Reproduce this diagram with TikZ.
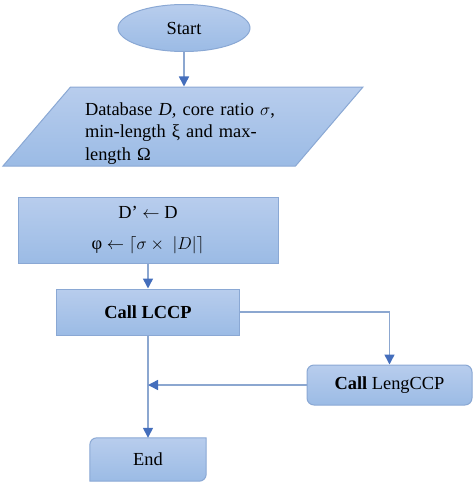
\documentclass[tikz,border=0pt]{standalone}
\usepackage{fontspec}
\setmainfont{Liberation Serif}
\usetikzlibrary{arrows.meta,shapes.geometric,backgrounds}

\definecolor{boxtop}{RGB}{184,205,237}
\definecolor{boxbot}{RGB}{155,187,229}
\definecolor{boxline}{RGB}{138,168,212}
\definecolor{linkblue}{RGB}{140,167,208}
\definecolor{tipblue}{RGB}{68,110,188}

\tikzset{
  boxfill/.style={draw=boxline, line width=1pt, top color=boxtop, bottom color=boxbot},
  box/.style={boxfill, font=\fontsize{18.4}{22.5}\selectfont, inner sep=0pt},
  flow/.style={draw=linkblue, line width=1.5pt, -{Triangle[length=10pt,width=10pt,color=tipblue]}},
}

\begin{document}
\begin{tikzpicture}[x=1pt,y=-1pt]
  \useasboundingbox (0,0) rectangle (474,482);

  \node[box, ellipse, minimum width=132, minimum height=47] (start) at (184,28) {Start};
  \node[box, trapezium, trapezium left angle=48, trapezium right angle=132,
        trapezium stretches body, minimum width=360, minimum height=79,
        text width=196, align=left] (input) at (183,126.5)
        {\rule{0pt}{26pt}Database \textit{D,} core ratio $\sigma$,\\ min-length ξ and max-\\ length Ω};
  \node[box, minimum width=260, minimum height=66, align=center] (init) at (148,230)
        {D’ $\leftarrow$ D\\[8pt] φ $\leftarrow \lceil\sigma\times\ |D|\rceil$};
  \node[box, minimum width=183, minimum height=46] (lccp) at (148,312) {\textbf{Call LCCP}};
  \node[box, rounded corners=7, minimum width=165, minimum height=40] (leng) at (389.5,385)
        {\textbf{Call} LengCCP};
  \node[font=\fontsize{18.4}{22.5}\selectfont, minimum width=116, minimum height=43] (end) at (148,459.5) {End};

  % round diagonal corners for the end box
  \begin{scope}[on background layer]
    \path[boxfill] (end.south west) -- ([yshift=-7pt]end.north west)
      arc[start angle=180, end angle=90, radius=7pt] -- (end.north east)
      -- ([yshift=7pt]end.south east) arc[start angle=0, end angle=-90, radius=7pt] -- cycle;
  \end{scope}

  \draw[flow] (start.south) -- (start.south |- input.north);
  \draw[flow] (init.south) -- (lccp.north);
  \draw[flow] (lccp.east) -| (leng.north);
  \draw[flow] (lccp.south) -- (end.north);
  \coordinate (merge) at (end.north |- leng.west);
  \draw[flow] (leng.west) -- (merge);

\end{tikzpicture}
\end{document}
